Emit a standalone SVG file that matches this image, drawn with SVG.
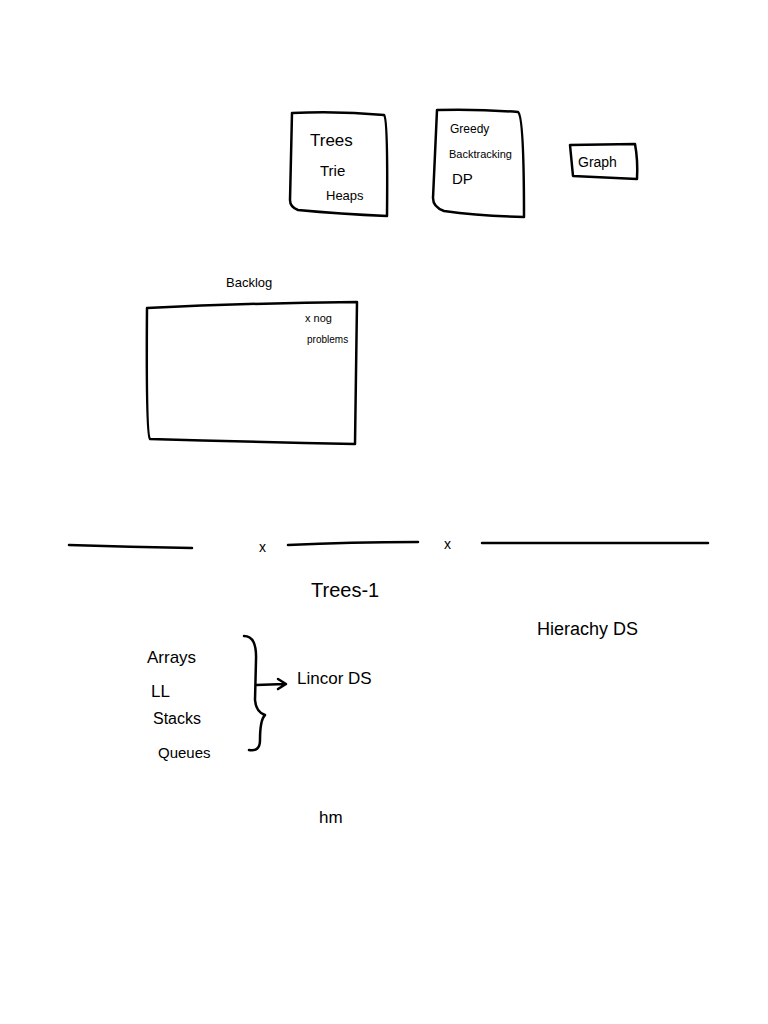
<svg xmlns="http://www.w3.org/2000/svg" width="768" height="1024" viewBox="0 0 768 1024">
<style>
.s{fill:none;stroke:#000;stroke-width:2.5;stroke-linecap:round;stroke-linejoin:round}
.t{font-family:"Liberation Sans",sans-serif;fill:#000}
</style>
<rect width="768" height="1024" fill="#fff"/>
<g id="trees-box">
<path class="s" d="M292 113 Q340 111 384 115 Q388 118 387 216 Q340 214 298 210 Q290 207 290 200 Z"/>
<text class="t" x="310" y="146" font-size="17">Trees</text>
<text class="t" x="320" y="176" font-size="15">Trie</text>
<text class="t" x="326" y="200" font-size="13">Heaps</text>
</g>
<g id="algo-box">
<path class="s" d="M437 110 Q480 109 518 112 Q524 116 524 217 Q480 216 444 211 Q433 207 433 198 Z"/>
<text class="t" x="450" y="133" font-size="12">Greedy</text>
<text class="t" x="449" y="158" font-size="11">Backtracking</text>
<text class="t" x="452" y="184" font-size="15">DP</text>
</g>
<g id="graph-box">
<path class="s" d="M570 145 L635 144 Q638 160 637 179 L573 176 Z"/>
<text class="t" x="578" y="167" font-size="14">Graph</text>
</g>
<g id="backlog">
<text class="t" x="226" y="287" font-size="13">Backlog</text>
<path class="s" d="M147 308 Q250 303 357 302 L355 444 Q250 442 150 439 Q146 436 147 308"/>
<text class="t" x="305" y="322" font-size="11">x nog</text>
<text class="t" x="307" y="343" font-size="10">problems</text>
</g>
<g id="separator">
<path class="s" d="M69 545 Q130 547 192 548" stroke-width="2"/>
<path class="s" d="M288 545 Q350 542 418 542" stroke-width="2"/>
<path class="s" d="M482 543 L708 543" stroke-width="2"/>
<text class="t" x="259" y="552" font-size="14">x</text>
<text class="t" x="444" y="549" font-size="14">x</text>
</g>
<text class="t" x="311" y="597" font-size="20">Trees-1</text>
<text class="t" x="537" y="635" font-size="18">Hierachy DS</text>
<g id="linear">
<text class="t" x="147" y="663" font-size="17">Arrays</text>
<text class="t" x="151" y="697" font-size="17">LL</text>
<text class="t" x="153" y="724" font-size="16">Stacks</text>
<text class="t" x="158" y="758" font-size="15">Queues</text>
<path class="s" d="M244 636 Q257 636 256 660 L255 700 Q256 712 265 715 Q260 720 260 740 Q260 752 249 750"/>
<path class="s" d="M256 685 L285 684 M278 679 L286 684 L278 689"/>
<text class="t" x="297" y="684" font-size="17">Lincor DS</text>
</g>
<text class="t" x="319" y="823" font-size="17">hm</text>
</svg>
